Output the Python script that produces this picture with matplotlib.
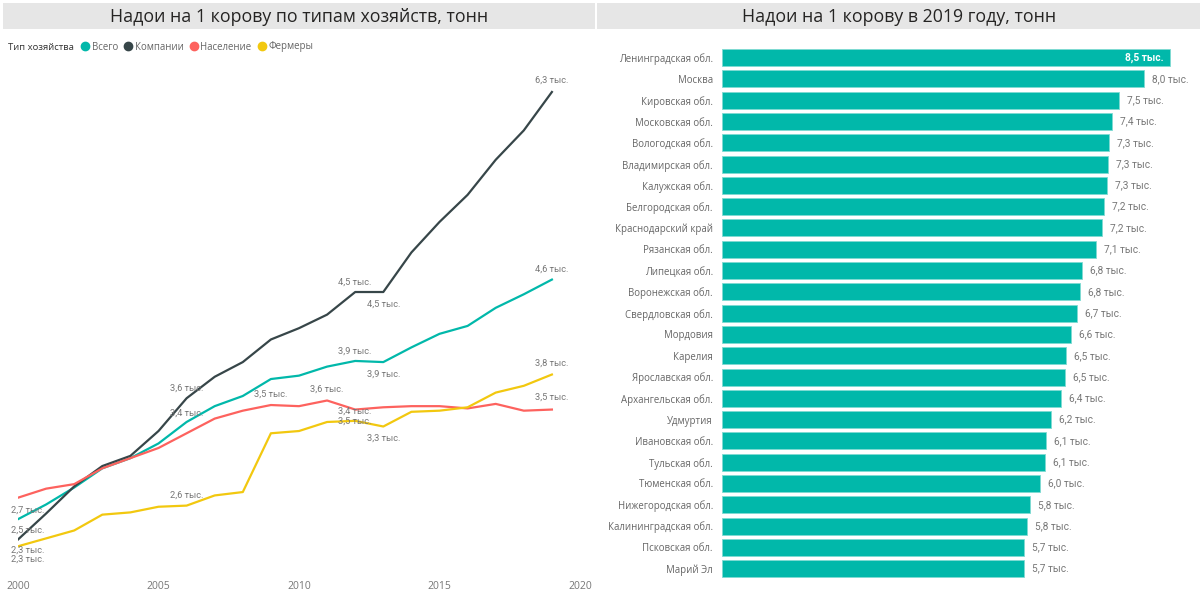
import matplotlib
matplotlib.use('Agg')
import matplotlib.pyplot as plt
from matplotlib.patches import Rectangle
from matplotlib.lines import Line2D

# ---------------- data ----------------
years = list(range(2000, 2020))
vsego = [2.52, 2.65, 2.80, 2.97, 3.06, 3.19, 3.38, 3.52, 3.61, 3.76,
         3.79, 3.87, 3.92, 3.91, 4.04, 4.16, 4.23, 4.39, 4.51, 4.64]
kompanii = [2.34, 2.57, 2.81, 2.99, 3.08, 3.30, 3.59, 3.78, 3.91, 4.11,
            4.21, 4.33, 4.53, 4.53, 4.88, 5.15, 5.39, 5.70, 5.96, 6.30]
naselenie = [2.71, 2.79, 2.83, 2.97, 3.06, 3.15, 3.28, 3.41, 3.48, 3.53,
             3.52, 3.57, 3.49, 3.51, 3.52, 3.52, 3.50, 3.54, 3.48, 3.49]
fermery = [2.28, 2.35, 2.42, 2.56, 2.58, 2.63, 2.64, 2.73, 2.76, 3.28,
           3.30, 3.38, 3.39, 3.34, 3.47, 3.48, 3.51, 3.64, 3.70, 3.80]
series_names = ['Всего', 'Компании', 'Население', 'Фермеры']
series_values = [vsego, kompanii, naselenie, fermery]
x_ticks = [2000, 2005, 2010, 2015, 2020]

regions = ['Ленинградская обл.', 'Москва', 'Кировская обл.', 'Московская обл.',
           'Вологодская обл.', 'Владимирская обл.', 'Калужская обл.',
           'Белгородская обл.', 'Краснодарский край', 'Рязанская обл.',
           'Липецкая обл.', 'Воронежская обл.', 'Свердловская обл.', 'Мордовия',
           'Карелия', 'Ярославская обл.', 'Архангельская обл.', 'Удмуртия',
           'Ивановская обл.', 'Тульская обл.', 'Тюменская обл.',
           'Нижегородская обл.', 'Калининградская обл.', 'Псковская обл.',
           'Марий Эл']
yield_2019 = [8.51, 8.00, 7.54, 7.40, 7.34, 7.32, 7.31, 7.24, 7.22, 7.10,
              6.84, 6.80, 6.74, 6.62, 6.52, 6.50, 6.44, 6.24, 6.14, 6.13,
              6.03, 5.84, 5.78, 5.74, 5.73]

title_left = 'Надои на 1 корову по типам хозяйств, тонн'
title_right = 'Надои на 1 корову в 2019 году, тонн'
legend_title = 'Тип хозяйства'

# ---------------- style ----------------
colors = ['#01B8AA', '#374649', '#FD625E', '#F2C80F']
TITLE_FONT = 'Open Sans'
TEXT_FONT = 'Open Sans'
LABEL_FONT = 'Roboto'

def fmt(v):
    return f'{v:.1f}'.replace('.', ',') + ' тыс.'

# labelled points: (series index, year, dx px, dy px)
point_labels = [
    (1, 2019, 0, 12), (0, 2019, 0, 10), (3, 2019, 0, 11), (2, 2019, 0, 12),
    (1, 2012, 0, 10), (1, 2013, 0, -12), (0, 2012, 0, 10), (0, 2013, 0, -12),
    (2, 2011, 0, 11), (3, 2012, 0, 10), (2, 2012, 0, -12), (3, 2013, 0, -12),
    (1, 2006, 0, 10), (0, 2006, 0, 9), (2, 2009, 0, 11), (3, 2006, 0, 10),
    (2, 2000, 10, -12), (0, 2000, 10, -11), (1, 2000, 10, -11), (3, 2000, 10, -13),
]

W, H = 1200, 597
fig = plt.figure(figsize=(W / 100, H / 100), dpi=100)
fig.patch.set_facecolor('white')

def fx(px):
    return px / W

def fy(py):
    return 1 - py / H

# title bands
fig.patches.append(Rectangle((fx(3), fy(29)), (595 - 3) / W, 26 / H,
                             transform=fig.transFigure, facecolor='#e6e6e6',
                             edgecolor='none', zorder=0))
fig.patches.append(Rectangle((fx(597), fy(29)), (1200 - 597) / W, 26 / H,
                             transform=fig.transFigure, facecolor='#e6e6e6',
                             edgecolor='none', zorder=0))
fig.text(fx(299), fy(17), title_left, ha='center', va='center', fontsize=12.8,
         color='#252423', family=TITLE_FONT)
fig.text(fx(899), fy(17), title_right, ha='center', va='center', fontsize=12.8,
         color='#252423', family=TITLE_FONT)

# ---------------- left: lines ----------------
ax1 = fig.add_axes([fx(18), fy(575), 562 / W, (575 - 60) / H])
ax1.set_xlim(2000, 2020)
ax1.set_ylim(2.026, 6.583)
for vals, c in zip(series_values, colors):
    ax1.plot(years, vals, color=c, lw=1.6, solid_joinstyle='round')
for si, yr, dx, dy in point_labels:
    v = series_values[si][years.index(yr)]
    ax1.annotate(fmt(v), (yr, v), xytext=(dx, dy), textcoords='offset pixels',
                 ha='center', va='center', fontsize=6.7, color='#777777',
                 family=LABEL_FONT, annotation_clip=False)
for s in ax1.spines.values():
    s.set_visible(False)
ax1.set_yticks([])
ax1.set_xticks(x_ticks)
ax1.set_xticklabels([str(t) for t in x_ticks])
ax1.tick_params(axis='x', length=0, pad=4, labelsize=7.5, labelcolor='#777777')
for lab in ax1.get_xticklabels():
    lab.set_family(TEXT_FONT)

# legend
fig.text(fx(8), fy(47), legend_title, ha='left', va='center', fontsize=6.8,
         color='#333333', family=TEXT_FONT)
handles = [Line2D([], [], marker='o', ls='', markersize=6, color=c) for c in colors]
leg = fig.legend(handles, series_names, loc='center left',
                 bbox_to_anchor=(fx(81), fy(47)), bbox_transform=fig.transFigure,
                 ncol=4, frameon=False, handlelength=0.9, handletextpad=0.2,
                 columnspacing=0.65, borderpad=0, borderaxespad=0,
                 prop={'family': TEXT_FONT, 'size': 6.9})
for t in leg.get_texts():
    t.set_color('#666666')

# ---------------- right: bars ----------------
n = len(regions)
ax2 = fig.add_axes([fx(722), fy(579.3), 468 / W, 532.3 / H])
ypos = list(range(n))
ax2.barh(ypos, yield_2019, height=0.8, color='#01B8AA', edgecolor='#7fdad2',
         linewidth=0.6)
ax2.set_ylim(n - 0.5, -0.5)
ax2.set_xlim(0, 468 / 52.7)
for s in ax2.spines.values():
    s.set_visible(False)
ax2.set_xticks([])
ax2.set_yticks(ypos)
ax2.set_yticklabels(regions)
ax2.tick_params(axis='y', length=0, pad=6.5, labelsize=6.9, labelcolor='#666666')
for lab in ax2.get_yticklabels():
    lab.set_family(TEXT_FONT)
for i, v in enumerate(yield_2019):
    if i == 0:
        ax2.annotate(fmt(v), (v, i), xytext=(-7, 0), textcoords='offset pixels',
                     ha='right', va='center', fontsize=7.3, color='white',
                     fontweight='bold', family=LABEL_FONT)
    else:
        ax2.annotate(fmt(v), (v, i), xytext=(8, 0), textcoords='offset pixels',
                     ha='left', va='center', fontsize=7.3, color='#777777',
                     family=LABEL_FONT, annotation_clip=False)

fig.savefig('out.png', dpi=100, facecolor='white')
